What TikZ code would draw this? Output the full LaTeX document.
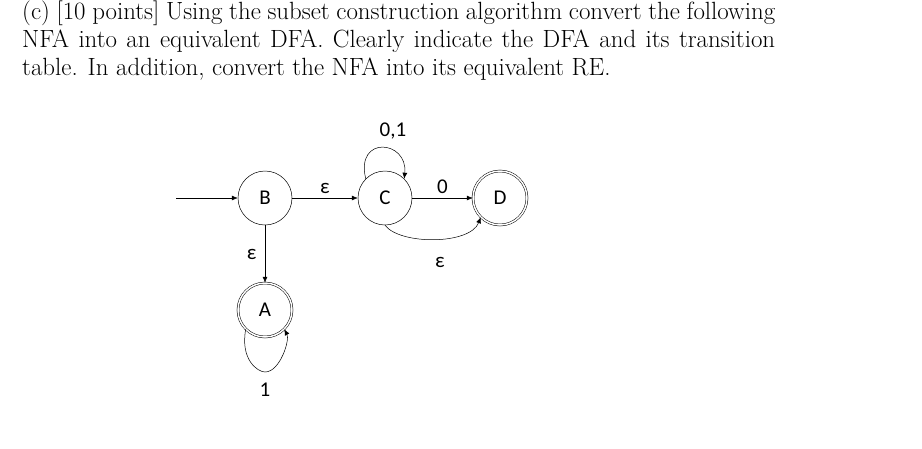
\documentclass[tikz,border=0pt]{standalone}
\usepackage{fontspec}
\newfontfamily\diag{Carlito}
\usetikzlibrary{arrows.meta}
\begin{document}
\begin{tikzpicture}[x=1pt,y=-1pt,
  st/.style={circle,draw,line width=0.5pt,minimum size=54pt,inner sep=0pt,font=\diag\fontsize{21}{24}\selectfont},
  acc/.style={st,double,double distance=1.5pt},
  lab/.style={font=\diag\fontsize{21}{24}\selectfont},
  tr/.style={-{Latex[length=6pt,width=5pt]},line width=0.5pt}]
\useasboundingbox (0,0) rectangle (922,448);
\node[anchor=north west,text width=753pt,align=justify,inner sep=0pt,font=\fontsize{24.9}{28}\selectfont] (q) at (22,1)
 {(c) [10 points] Using the subset construction algorithm convert the following\linebreak NFA into an equivalent DFA. Clearly indicate the DFA and its transition\linebreak table. In addition, convert the NFA into its equivalent RE.};
\node[st] (B) at (265,198) {B};
\node[st] (C) at (385,198) {C};
\node[acc] (D) at (500,198) {D};
\node[acc] (A) at (265,310) {A};
\coordinate (s) at (176,198);
\draw[tr] (s) -- (B);
\draw[tr] (B) -- node[lab,above=1pt] {ε} (C);
\draw[tr] (C) -- node[lab,above=1pt] {0} (D);
\draw[tr] (B) -- node[lab,left=5pt] {ε} (A);
\draw[tr] (C.south) .. controls (400,245) and (470,245) .. (D.south west);
\node[lab] (e3) at (440,262) {ε};
\draw[tr] (C.north west) .. controls (355,135) and (408,140) .. (C.north east);
\node[lab] (l01) at (393,131) {0,1};
\draw[tr] (A.south west) .. controls (240,360) and (258,372) .. (265,372) .. controls (280,372) and (290,340) .. (A.south east);
\node[lab] (l1) at (265,390) {1};
\end{tikzpicture}
\end{document}
